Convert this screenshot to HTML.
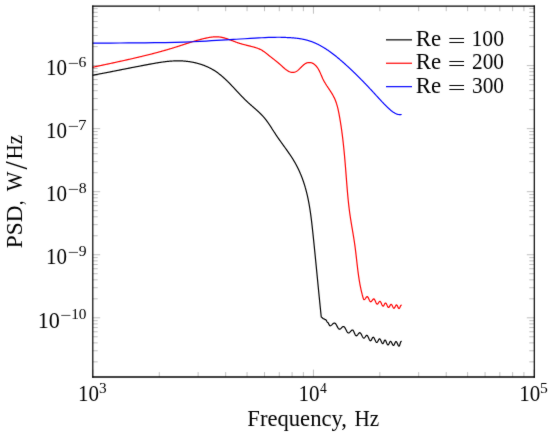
<!DOCTYPE html>
<html><head><meta charset="utf-8"><style>
html,body{margin:0;padding:0;background:#fff;}
svg{display:block;}
text{font-family:"Liberation Serif",serif;fill:#000;}
</style></head><body>
<svg width="550" height="435" viewBox="0 0 550 435">
<defs><filter id="soft" x="0" y="0" width="550" height="435" filterUnits="userSpaceOnUse" color-interpolation-filters="sRGB"><feConvolveMatrix order="3" kernelMatrix="1 3 1 3 40 3 1 3 1" edgeMode="duplicate"/></filter></defs>
<g filter="url(#soft)">
<rect width="550" height="435" fill="#fff"/>
<g stroke="#000" stroke-width="0.26" fill="none"><line x1="92.90" y1="377.00" x2="92.90" y2="369.60"/><line x1="92.90" y1="6.30" x2="92.90" y2="13.70"/><line x1="159.29" y1="377.00" x2="159.29" y2="372.10"/><line x1="159.29" y1="6.30" x2="159.29" y2="11.20"/><line x1="198.13" y1="377.00" x2="198.13" y2="372.10"/><line x1="198.13" y1="6.30" x2="198.13" y2="11.20"/><line x1="225.68" y1="377.00" x2="225.68" y2="372.10"/><line x1="225.68" y1="6.30" x2="225.68" y2="11.20"/><line x1="247.06" y1="377.00" x2="247.06" y2="372.10"/><line x1="247.06" y1="6.30" x2="247.06" y2="11.20"/><line x1="264.52" y1="377.00" x2="264.52" y2="372.10"/><line x1="264.52" y1="6.30" x2="264.52" y2="11.20"/><line x1="279.29" y1="377.00" x2="279.29" y2="372.10"/><line x1="279.29" y1="6.30" x2="279.29" y2="11.20"/><line x1="292.08" y1="377.00" x2="292.08" y2="372.10"/><line x1="292.08" y1="6.30" x2="292.08" y2="11.20"/><line x1="303.36" y1="377.00" x2="303.36" y2="372.10"/><line x1="303.36" y1="6.30" x2="303.36" y2="11.20"/><line x1="313.45" y1="377.00" x2="313.45" y2="369.60"/><line x1="313.45" y1="6.30" x2="313.45" y2="13.70"/><line x1="379.84" y1="377.00" x2="379.84" y2="372.10"/><line x1="379.84" y1="6.30" x2="379.84" y2="11.20"/><line x1="418.68" y1="377.00" x2="418.68" y2="372.10"/><line x1="418.68" y1="6.30" x2="418.68" y2="11.20"/><line x1="446.23" y1="377.00" x2="446.23" y2="372.10"/><line x1="446.23" y1="6.30" x2="446.23" y2="11.20"/><line x1="467.61" y1="377.00" x2="467.61" y2="372.10"/><line x1="467.61" y1="6.30" x2="467.61" y2="11.20"/><line x1="485.07" y1="377.00" x2="485.07" y2="372.10"/><line x1="485.07" y1="6.30" x2="485.07" y2="11.20"/><line x1="499.84" y1="377.00" x2="499.84" y2="372.10"/><line x1="499.84" y1="6.30" x2="499.84" y2="11.20"/><line x1="512.63" y1="377.00" x2="512.63" y2="372.10"/><line x1="512.63" y1="6.30" x2="512.63" y2="11.20"/><line x1="523.91" y1="377.00" x2="523.91" y2="372.10"/><line x1="523.91" y1="6.30" x2="523.91" y2="11.20"/><line x1="534.00" y1="377.00" x2="534.00" y2="369.60"/><line x1="534.00" y1="6.30" x2="534.00" y2="13.70"/><line x1="92.80" y1="361.87" x2="97.70" y2="361.87"/><line x1="534.20" y1="361.87" x2="529.30" y2="361.87"/><line x1="92.80" y1="350.77" x2="97.70" y2="350.77"/><line x1="534.20" y1="350.77" x2="529.30" y2="350.77"/><line x1="92.80" y1="342.89" x2="97.70" y2="342.89"/><line x1="534.20" y1="342.89" x2="529.30" y2="342.89"/><line x1="92.80" y1="336.78" x2="97.70" y2="336.78"/><line x1="534.20" y1="336.78" x2="529.30" y2="336.78"/><line x1="92.80" y1="331.79" x2="97.70" y2="331.79"/><line x1="534.20" y1="331.79" x2="529.30" y2="331.79"/><line x1="92.80" y1="327.57" x2="97.70" y2="327.57"/><line x1="534.20" y1="327.57" x2="529.30" y2="327.57"/><line x1="92.80" y1="323.91" x2="97.70" y2="323.91"/><line x1="534.20" y1="323.91" x2="529.30" y2="323.91"/><line x1="92.80" y1="320.69" x2="97.70" y2="320.69"/><line x1="534.20" y1="320.69" x2="529.30" y2="320.69"/><line x1="92.80" y1="317.80" x2="100.20" y2="317.80"/><line x1="534.20" y1="317.80" x2="526.80" y2="317.80"/><line x1="92.80" y1="298.82" x2="97.70" y2="298.82"/><line x1="534.20" y1="298.82" x2="529.30" y2="298.82"/><line x1="92.80" y1="287.72" x2="97.70" y2="287.72"/><line x1="534.20" y1="287.72" x2="529.30" y2="287.72"/><line x1="92.80" y1="279.84" x2="97.70" y2="279.84"/><line x1="534.20" y1="279.84" x2="529.30" y2="279.84"/><line x1="92.80" y1="273.73" x2="97.70" y2="273.73"/><line x1="534.20" y1="273.73" x2="529.30" y2="273.73"/><line x1="92.80" y1="268.74" x2="97.70" y2="268.74"/><line x1="534.20" y1="268.74" x2="529.30" y2="268.74"/><line x1="92.80" y1="264.52" x2="97.70" y2="264.52"/><line x1="534.20" y1="264.52" x2="529.30" y2="264.52"/><line x1="92.80" y1="260.86" x2="97.70" y2="260.86"/><line x1="534.20" y1="260.86" x2="529.30" y2="260.86"/><line x1="92.80" y1="257.64" x2="97.70" y2="257.64"/><line x1="534.20" y1="257.64" x2="529.30" y2="257.64"/><line x1="92.80" y1="254.75" x2="100.20" y2="254.75"/><line x1="534.20" y1="254.75" x2="526.80" y2="254.75"/><line x1="92.80" y1="235.77" x2="97.70" y2="235.77"/><line x1="534.20" y1="235.77" x2="529.30" y2="235.77"/><line x1="92.80" y1="224.67" x2="97.70" y2="224.67"/><line x1="534.20" y1="224.67" x2="529.30" y2="224.67"/><line x1="92.80" y1="216.79" x2="97.70" y2="216.79"/><line x1="534.20" y1="216.79" x2="529.30" y2="216.79"/><line x1="92.80" y1="210.68" x2="97.70" y2="210.68"/><line x1="534.20" y1="210.68" x2="529.30" y2="210.68"/><line x1="92.80" y1="205.69" x2="97.70" y2="205.69"/><line x1="534.20" y1="205.69" x2="529.30" y2="205.69"/><line x1="92.80" y1="201.47" x2="97.70" y2="201.47"/><line x1="534.20" y1="201.47" x2="529.30" y2="201.47"/><line x1="92.80" y1="197.81" x2="97.70" y2="197.81"/><line x1="534.20" y1="197.81" x2="529.30" y2="197.81"/><line x1="92.80" y1="194.59" x2="97.70" y2="194.59"/><line x1="534.20" y1="194.59" x2="529.30" y2="194.59"/><line x1="92.80" y1="191.70" x2="100.20" y2="191.70"/><line x1="534.20" y1="191.70" x2="526.80" y2="191.70"/><line x1="92.80" y1="172.72" x2="97.70" y2="172.72"/><line x1="534.20" y1="172.72" x2="529.30" y2="172.72"/><line x1="92.80" y1="161.62" x2="97.70" y2="161.62"/><line x1="534.20" y1="161.62" x2="529.30" y2="161.62"/><line x1="92.80" y1="153.74" x2="97.70" y2="153.74"/><line x1="534.20" y1="153.74" x2="529.30" y2="153.74"/><line x1="92.80" y1="147.63" x2="97.70" y2="147.63"/><line x1="534.20" y1="147.63" x2="529.30" y2="147.63"/><line x1="92.80" y1="142.64" x2="97.70" y2="142.64"/><line x1="534.20" y1="142.64" x2="529.30" y2="142.64"/><line x1="92.80" y1="138.42" x2="97.70" y2="138.42"/><line x1="534.20" y1="138.42" x2="529.30" y2="138.42"/><line x1="92.80" y1="134.76" x2="97.70" y2="134.76"/><line x1="534.20" y1="134.76" x2="529.30" y2="134.76"/><line x1="92.80" y1="131.54" x2="97.70" y2="131.54"/><line x1="534.20" y1="131.54" x2="529.30" y2="131.54"/><line x1="92.80" y1="128.65" x2="100.20" y2="128.65"/><line x1="534.20" y1="128.65" x2="526.80" y2="128.65"/><line x1="92.80" y1="109.67" x2="97.70" y2="109.67"/><line x1="534.20" y1="109.67" x2="529.30" y2="109.67"/><line x1="92.80" y1="98.57" x2="97.70" y2="98.57"/><line x1="534.20" y1="98.57" x2="529.30" y2="98.57"/><line x1="92.80" y1="90.69" x2="97.70" y2="90.69"/><line x1="534.20" y1="90.69" x2="529.30" y2="90.69"/><line x1="92.80" y1="84.58" x2="97.70" y2="84.58"/><line x1="534.20" y1="84.58" x2="529.30" y2="84.58"/><line x1="92.80" y1="79.59" x2="97.70" y2="79.59"/><line x1="534.20" y1="79.59" x2="529.30" y2="79.59"/><line x1="92.80" y1="75.37" x2="97.70" y2="75.37"/><line x1="534.20" y1="75.37" x2="529.30" y2="75.37"/><line x1="92.80" y1="71.71" x2="97.70" y2="71.71"/><line x1="534.20" y1="71.71" x2="529.30" y2="71.71"/><line x1="92.80" y1="68.49" x2="97.70" y2="68.49"/><line x1="534.20" y1="68.49" x2="529.30" y2="68.49"/><line x1="92.80" y1="65.60" x2="100.20" y2="65.60"/><line x1="534.20" y1="65.60" x2="526.80" y2="65.60"/><line x1="92.80" y1="46.62" x2="97.70" y2="46.62"/><line x1="534.20" y1="46.62" x2="529.30" y2="46.62"/><line x1="92.80" y1="35.52" x2="97.70" y2="35.52"/><line x1="534.20" y1="35.52" x2="529.30" y2="35.52"/><line x1="92.80" y1="27.64" x2="97.70" y2="27.64"/><line x1="534.20" y1="27.64" x2="529.30" y2="27.64"/><line x1="92.80" y1="21.53" x2="97.70" y2="21.53"/><line x1="534.20" y1="21.53" x2="529.30" y2="21.53"/><line x1="92.80" y1="16.54" x2="97.70" y2="16.54"/><line x1="534.20" y1="16.54" x2="529.30" y2="16.54"/><line x1="92.80" y1="12.32" x2="97.70" y2="12.32"/><line x1="534.20" y1="12.32" x2="529.30" y2="12.32"/><line x1="92.80" y1="8.66" x2="97.70" y2="8.66"/><line x1="534.20" y1="8.66" x2="529.30" y2="8.66"/></g>
<g fill="none" stroke-width="1.20" stroke-linejoin="round" stroke-linecap="round">
<path d="M92.90 75.20 L93.34 75.11 L93.78 75.03 L94.23 74.95 L94.68 74.86 L95.12 74.78 L95.57 74.70 L96.01 74.62 L96.46 74.53 L96.90 74.45 L97.35 74.36 L97.79 74.28 L98.24 74.20 L98.68 74.11 L99.13 74.03 L99.57 73.94 L100.01 73.86 L100.46 73.77 L100.90 73.69 L101.35 73.60 L101.79 73.52 L102.23 73.43 L102.68 73.35 L103.12 73.26 L103.57 73.18 L104.01 73.09 L104.45 73.01 L104.90 72.92 L105.34 72.83 L105.78 72.75 L106.23 72.66 L106.67 72.58 L107.11 72.49 L107.56 72.40 L108.00 72.32 L108.44 72.23 L108.89 72.14 L109.33 72.06 L109.77 71.97 L110.21 71.88 L110.66 71.80 L111.10 71.71 L111.54 71.62 L111.98 71.54 L112.43 71.45 L112.87 71.36 L113.31 71.27 L113.76 71.19 L114.20 71.10 L114.64 71.01 L115.08 70.92 L115.52 70.84 L115.97 70.75 L116.41 70.66 L116.85 70.57 L117.29 70.49 L117.74 70.40 L118.18 70.31 L118.62 70.22 L119.06 70.14 L119.50 70.05 L119.95 69.96 L120.39 69.87 L120.83 69.79 L121.27 69.70 L121.71 69.61 L122.16 69.52 L122.60 69.44 L123.04 69.35 L123.48 69.26 L123.93 69.17 L124.37 69.09 L124.81 69.00 L125.25 68.91 L125.69 68.82 L126.14 68.74 L126.58 68.65 L127.02 68.56 L127.46 68.47 L127.90 68.39 L128.35 68.30 L128.79 68.21 L129.23 68.12 L129.67 68.04 L130.11 67.95 L130.56 67.86 L131.00 67.78 L131.44 67.69 L131.88 67.60 L132.33 67.51 L132.77 67.43 L133.21 67.34 L133.65 67.25 L134.09 67.17 L134.54 67.08 L134.98 67.00 L135.42 66.91 L135.87 66.82 L136.31 66.74 L136.75 66.65 L137.19 66.56 L137.64 66.48 L138.08 66.39 L138.52 66.31 L138.96 66.22 L139.41 66.14 L139.85 66.05 L140.29 65.97 L140.74 65.88 L141.18 65.80 L141.62 65.71 L142.07 65.63 L142.51 65.54 L142.95 65.46 L143.40 65.37 L143.84 65.29 L144.28 65.20 L144.73 65.12 L145.17 65.04 L145.62 64.95 L146.06 64.87 L146.50 64.79 L146.95 64.70 L147.39 64.62 L147.84 64.54 L148.28 64.45 L148.72 64.37 L149.17 64.29 L149.61 64.21 L150.06 64.13 L150.50 64.04 L150.95 63.96 L151.39 63.88 L151.84 63.80 L152.28 63.72 L152.73 63.64 L153.17 63.56 L153.62 63.48 L154.07 63.40 L154.51 63.32 L154.96 63.24 L155.40 63.17 L155.85 63.09 L156.29 63.01 L156.74 62.94 L157.19 62.86 L157.63 62.79 L158.08 62.71 L158.53 62.64 L158.97 62.57 L159.42 62.50 L159.87 62.43 L160.31 62.36 L160.76 62.29 L161.21 62.23 L161.66 62.16 L162.10 62.10 L162.55 62.03 L163.00 61.97 L163.45 61.91 L163.89 61.85 L164.34 61.79 L164.79 61.73 L165.24 61.68 L165.69 61.63 L166.14 61.57 L166.58 61.52 L167.03 61.47 L167.48 61.42 L167.93 61.38 L168.38 61.33 L168.83 61.29 L169.28 61.25 L169.73 61.21 L170.18 61.17 L170.63 61.13 L171.08 61.10 L171.53 61.07 L171.98 61.04 L172.43 61.01 L172.88 60.98 L173.33 60.96 L173.78 60.93 L174.23 60.91 L174.68 60.90 L175.13 60.88 L175.58 60.87 L176.03 60.85 L176.49 60.84 L176.94 60.84 L177.39 60.83 L177.84 60.83 L178.29 60.83 L178.74 60.83 L179.20 60.84 L179.65 60.85 L180.10 60.86 L180.55 60.87 L181.01 60.89 L181.46 60.90 L181.91 60.93 L182.37 60.95 L182.82 60.97 L183.27 61.00 L183.72 61.04 L184.18 61.07 L184.63 61.11 L185.08 61.15 L185.53 61.19 L185.99 61.23 L186.44 61.28 L186.89 61.33 L187.34 61.38 L187.79 61.44 L188.24 61.50 L188.69 61.56 L189.14 61.62 L189.59 61.69 L190.04 61.76 L190.49 61.83 L190.94 61.90 L191.39 61.98 L191.83 62.06 L192.28 62.14 L192.73 62.23 L193.17 62.32 L193.62 62.41 L194.06 62.50 L194.50 62.60 L194.94 62.70 L195.39 62.80 L195.83 62.90 L196.27 63.01 L196.71 63.12 L197.15 63.24 L197.58 63.35 L198.02 63.47 L198.45 63.59 L198.89 63.72 L199.32 63.84 L199.76 63.97 L200.19 64.11 L200.62 64.24 L201.05 64.38 L201.47 64.52 L201.90 64.67 L202.33 64.82 L202.75 64.97 L203.18 65.12 L203.60 65.27 L204.02 65.43 L204.44 65.60 L204.86 65.76 L205.27 65.93 L205.69 66.10 L206.10 66.27 L206.51 66.45 L206.92 66.63 L207.33 66.81 L207.74 66.99 L208.15 67.18 L208.55 67.37 L208.95 67.57 L209.36 67.76 L209.76 67.96 L210.15 68.17 L210.55 68.37 L210.94 68.58 L211.34 68.79 L211.73 69.01 L212.12 69.22 L212.50 69.44 L212.89 69.67 L213.27 69.89 L213.65 70.12 L214.03 70.36 L214.41 70.59 L214.78 70.83 L215.16 71.07 L215.53 71.32 L215.90 71.56 L216.26 71.81 L216.63 72.07 L216.99 72.32 L217.36 72.58 L217.72 72.84 L218.07 73.10 L218.43 73.37 L218.79 73.64 L219.14 73.91 L219.49 74.18 L219.84 74.46 L220.19 74.74 L220.54 75.02 L220.88 75.30 L221.23 75.58 L221.57 75.87 L221.91 76.16 L222.25 76.45 L222.59 76.74 L222.93 77.04 L223.27 77.33 L223.60 77.63 L223.94 77.93 L224.27 78.23 L224.60 78.54 L224.93 78.84 L225.26 79.15 L225.59 79.46 L225.92 79.77 L226.25 80.08 L226.57 80.39 L226.90 80.70 L227.22 81.02 L227.54 81.34 L227.87 81.65 L228.19 81.97 L228.51 82.29 L228.83 82.62 L229.15 82.94 L229.46 83.26 L229.78 83.59 L230.10 83.91 L230.42 84.24 L230.73 84.57 L231.05 84.90 L231.36 85.22 L231.68 85.55 L231.99 85.89 L232.31 86.22 L232.62 86.55 L232.93 86.88 L233.24 87.21 L233.56 87.55 L233.87 87.88 L234.18 88.21 L234.49 88.55 L234.80 88.88 L235.12 89.22 L235.43 89.55 L235.74 89.89 L236.05 90.22 L236.36 90.56 L236.67 90.89 L236.98 91.23 L237.30 91.56 L237.61 91.90 L237.92 92.23 L238.23 92.57 L238.54 92.90 L238.85 93.23 L239.17 93.57 L239.48 93.90 L239.79 94.23 L240.11 94.56 L240.42 94.90 L240.74 95.23 L241.05 95.56 L241.37 95.89 L241.68 96.22 L242.00 96.54 L242.31 96.87 L242.63 97.20 L242.95 97.52 L243.27 97.85 L243.59 98.17 L243.91 98.49 L244.23 98.82 L244.55 99.14 L244.87 99.46 L245.20 99.77 L245.52 100.09 L245.85 100.41 L246.17 100.72 L246.50 101.03 L246.83 101.34 L247.16 101.65 L247.49 101.96 L247.82 102.27 L248.15 102.57 L248.48 102.88 L248.82 103.18 L249.15 103.48 L249.49 103.78 L249.82 104.08 L250.16 104.38 L250.50 104.68 L250.83 104.97 L251.17 105.27 L251.51 105.57 L251.85 105.86 L252.18 106.16 L252.52 106.45 L252.86 106.75 L253.20 107.04 L253.53 107.33 L253.87 107.63 L254.21 107.92 L254.55 108.22 L254.88 108.51 L255.22 108.81 L255.55 109.10 L255.89 109.40 L256.22 109.70 L256.55 109.99 L256.88 110.29 L257.21 110.59 L257.54 110.89 L257.87 111.19 L258.20 111.49 L258.52 111.79 L258.85 112.10 L259.17 112.40 L259.49 112.71 L259.81 113.02 L260.13 113.33 L260.45 113.64 L260.76 113.96 L261.07 114.27 L261.39 114.59 L261.70 114.91 L262.00 115.23 L262.31 115.55 L262.61 115.88 L262.91 116.21 L263.21 116.54 L263.50 116.87 L263.80 117.21 L264.09 117.55 L264.38 117.89 L264.66 118.23 L264.94 118.58 L265.22 118.93 L265.50 119.28 L265.78 119.63 L266.05 119.99 L266.33 120.34 L266.60 120.70 L266.86 121.06 L267.13 121.43 L267.39 121.79 L267.66 122.16 L267.92 122.53 L268.18 122.90 L268.44 123.27 L268.69 123.64 L268.95 124.02 L269.20 124.39 L269.46 124.77 L269.71 125.15 L269.96 125.52 L270.21 125.90 L270.46 126.28 L270.71 126.66 L270.96 127.05 L271.21 127.43 L271.45 127.81 L271.70 128.19 L271.95 128.57 L272.19 128.96 L272.44 129.34 L272.69 129.72 L272.93 130.11 L273.18 130.49 L273.42 130.87 L273.67 131.25 L273.92 131.63 L274.16 132.02 L274.41 132.40 L274.66 132.78 L274.91 133.16 L275.15 133.54 L275.40 133.92 L275.65 134.30 L275.90 134.68 L276.15 135.06 L276.41 135.43 L276.66 135.81 L276.91 136.19 L277.17 136.56 L277.42 136.94 L277.68 137.31 L277.93 137.69 L278.19 138.06 L278.45 138.43 L278.71 138.80 L278.97 139.18 L279.23 139.55 L279.49 139.92 L279.75 140.29 L280.01 140.66 L280.27 141.03 L280.54 141.40 L280.80 141.76 L281.06 142.13 L281.33 142.50 L281.59 142.87 L281.86 143.24 L282.12 143.60 L282.39 143.97 L282.65 144.34 L282.92 144.70 L283.18 145.07 L283.45 145.44 L283.71 145.80 L283.98 146.17 L284.24 146.54 L284.50 146.90 L284.77 147.27 L285.03 147.64 L285.30 148.00 L285.56 148.37 L285.82 148.74 L286.09 149.11 L286.35 149.47 L286.61 149.84 L286.87 150.21 L287.13 150.58 L287.39 150.95 L287.65 151.31 L287.91 151.68 L288.17 152.05 L288.43 152.42 L288.69 152.79 L288.94 153.16 L289.20 153.54 L289.45 153.91 L289.71 154.28 L289.96 154.65 L290.21 155.03 L290.46 155.40 L290.71 155.77 L290.96 156.15 L291.21 156.53 L291.45 156.90 L291.70 157.28 L291.94 157.66 L292.19 158.04 L292.43 158.42 L292.67 158.80 L292.91 159.18 L293.14 159.56 L293.38 159.94 L293.61 160.33 L293.84 160.71 L294.08 161.10 L294.30 161.48 L294.53 161.87 L294.76 162.26 L294.98 162.65 L295.20 163.04 L295.42 163.43 L295.64 163.83 L295.86 164.22 L296.08 164.62 L296.29 165.01 L296.50 165.41 L296.71 165.81 L296.92 166.21 L297.12 166.61 L297.33 167.01 L297.53 167.41 L297.73 167.81 L297.93 168.22 L298.13 168.62 L298.33 169.03 L298.52 169.44 L298.71 169.84 L298.90 170.25 L299.09 170.66 L299.28 171.07 L299.46 171.48 L299.65 171.90 L299.83 172.31 L300.01 172.72 L300.19 173.14 L300.37 173.55 L300.54 173.97 L300.72 174.38 L300.89 174.80 L301.06 175.22 L301.23 175.64 L301.39 176.05 L301.56 176.47 L301.72 176.89 L301.89 177.31 L302.05 177.74 L302.20 178.16 L302.36 178.58 L302.52 179.00 L302.67 179.43 L302.82 179.85 L302.97 180.28 L303.12 180.70 L303.27 181.13 L303.42 181.56 L303.56 181.98 L303.70 182.41 L303.85 182.84 L303.98 183.26 L304.12 183.69 L304.26 184.12 L304.39 184.55 L304.53 184.98 L304.66 185.41 L304.79 185.84 L304.92 186.27 L305.05 186.70 L305.17 187.14 L305.30 187.57 L305.42 188.00 L305.54 188.43 L305.66 188.87 L305.78 189.30 L305.90 189.74 L306.02 190.17 L306.13 190.60 L306.24 191.04 L306.36 191.47 L306.47 191.91 L306.58 192.35 L306.69 192.78 L306.79 193.22 L306.90 193.66 L307.00 194.09 L307.11 194.53 L307.21 194.97 L307.31 195.41 L307.41 195.85 L307.51 196.29 L307.61 196.73 L307.70 197.17 L307.80 197.61 L307.89 198.05 L307.98 198.49 L308.08 198.93 L308.17 199.37 L308.26 199.81 L308.34 200.25 L308.43 200.69 L308.52 201.14 L308.60 201.58 L308.69 202.02 L308.77 202.46 L308.86 202.91 L308.94 203.35 L309.02 203.79 L309.10 204.24 L309.18 204.68 L309.25 205.13 L309.33 205.57 L309.41 206.02 L309.48 206.46 L309.56 206.91 L309.63 207.35 L309.70 207.80 L309.77 208.24 L309.85 208.69 L309.92 209.13 L309.99 209.58 L310.05 210.03 L310.12 210.47 L310.19 210.92 L310.26 211.37 L310.32 211.82 L310.39 212.26 L310.45 212.71 L310.52 213.16 L310.58 213.61 L310.64 214.05 L310.70 214.50 L310.77 214.95 L310.83 215.40 L310.89 215.85 L310.95 216.30 L311.00 216.74 L311.06 217.19 L311.12 217.64 L311.18 218.09 L311.23 218.54 L311.29 218.99 L311.35 219.44 L311.40 219.89 L311.46 220.34 L311.51 220.79 L311.57 221.24 L311.62 221.69 L311.67 222.14 L311.73 222.59 L311.78 223.04 L311.83 223.49 L311.88 223.94 L311.93 224.39 L311.98 224.84 L312.03 225.29 L312.09 225.74 L312.14 226.19 L312.19 226.64 L312.24 227.09 L312.28 227.54 L312.33 227.99 L312.38 228.44 L312.43 228.89 L312.48 229.34 L312.53 229.79 L312.58 230.24 L312.62 230.69 L312.67 231.14 L312.72 231.59 L312.77 232.04 L312.82 232.49 L312.86 232.94 L312.91 233.39 L312.96 233.84 L313.01 234.29 L313.05 234.74 L313.10 235.19 L313.15 235.64 L313.19 236.09 L313.24 236.54 L313.29 236.99 L313.33 237.44 L313.38 237.89 L313.43 238.34 L313.47 238.79 L313.52 239.24 L313.57 239.69 L313.61 240.14 L313.66 240.59 L313.71 241.04 L313.75 241.49 L313.80 241.94 L313.84 242.39 L313.89 242.84 L313.94 243.29 L313.98 243.74 L314.03 244.19 L314.07 244.63 L314.12 245.08 L314.16 245.53 L314.21 245.98 L314.26 246.43 L314.30 246.88 L314.35 247.33 L314.39 247.78 L314.44 248.23 L314.48 248.68 L314.53 249.13 L314.57 249.58 L314.62 250.03 L314.66 250.48 L314.71 250.92 L314.75 251.37 L314.80 251.82 L314.84 252.27 L314.89 252.72 L314.93 253.17 L314.98 253.62 L315.02 254.07 L315.07 254.52 L315.11 254.97 L315.16 255.41 L315.20 255.86 L315.24 256.31 L315.29 256.76 L315.33 257.21 L315.38 257.66 L315.42 258.11 L315.47 258.56 L315.51 259.01 L315.55 259.46 L315.60 259.90 L315.64 260.35 L315.69 260.80 L315.73 261.25 L315.78 261.70 L315.82 262.15 L315.86 262.60 L315.91 263.05 L315.95 263.49 L316.00 263.94 L316.04 264.39 L316.08 264.84 L316.13 265.29 L316.17 265.74 L316.22 266.19 L316.26 266.64 L316.30 267.08 L316.35 267.53 L316.39 267.98 L316.43 268.43 L316.48 268.88 L316.52 269.33 L316.57 269.78 L316.61 270.23 L316.65 270.67 L316.70 271.12 L316.74 271.57 L316.78 272.02 L316.83 272.47 L316.87 272.92 L316.92 273.37 L316.96 273.81 L317.00 274.26 L317.05 274.71 L317.09 275.16 L317.13 275.61 L317.18 276.06 L317.22 276.51 L317.26 276.95 L317.31 277.40 L317.35 277.85 L317.40 278.30 L317.44 278.75 L317.48 279.20 L317.53 279.65 L317.57 280.10 L317.61 280.54 L317.66 280.99 L317.70 281.44 L317.75 281.89 L317.79 282.34 L317.83 282.79 L317.88 283.24 L317.92 283.69 L317.96 284.13 L318.01 284.58 L318.05 285.03 L318.10 285.48 L318.14 285.93 L318.18 286.38 L318.23 286.83 L318.27 287.28 L318.31 287.72 L318.36 288.17 L318.40 288.62 L318.45 289.07 L318.49 289.52 L318.53 289.97 L318.58 290.42 L318.62 290.87 L318.67 291.32 L318.71 291.76 L318.75 292.21 L318.80 292.66 L318.84 293.11 L318.89 293.56 L318.93 294.01 L318.98 294.46 L319.02 294.91 L319.06 295.36 L319.11 295.81 L319.15 296.25 L319.20 296.70 L319.24 297.15 L319.29 297.60 L319.33 298.05 L319.38 298.50 L319.42 298.95 L319.46 299.40 L319.51 299.85 L319.55 300.30 L319.60 300.75 L319.64 301.20 L319.69 301.64 L319.73 302.09 L319.78 302.54 L319.82 302.99 L319.87 303.44 L319.91 303.89 L319.96 304.34 L320.00 304.79 L320.05 305.24 L320.09 305.69 L320.14 306.14 L320.19 306.59 L320.23 307.04 L320.28 307.49 L320.32 307.94 L320.37 308.39 L320.41 308.84 L320.46 309.29 L320.51 309.74 L320.55 310.19 L320.60 310.64 L320.64 311.09 L320.69 311.54 L320.74 311.99 L320.78 312.44 L320.83 312.89 L320.87 313.34 L320.92 313.79 L320.97 314.24 L321.01 314.69 L321.06 315.14 L321.11 315.59 L321.15 316.04 L321.20 316.49 L321.25 316.94 L321.70 317.30 L322.10 317.51 L322.50 318.00 L322.90 318.49 L323.30 318.70 L323.78 318.80 L324.26 319.05 L324.74 319.35 L325.22 319.60 L325.70 319.70 L326.10 319.97 L326.50 320.67 L326.90 321.53 L327.30 322.23 L327.70 322.50 L328.16 322.82 L328.62 323.64 L329.08 324.66 L329.54 325.48 L330.00 325.80 L330.41 325.74 L330.82 325.58 L331.23 325.32 L331.64 324.98 L332.05 324.60 L332.45 324.20 L332.86 323.82 L333.27 323.48 L333.68 323.22 L334.09 323.06 L334.50 323.00 L334.92 323.11 L335.33 323.42 L335.75 323.91 L336.17 324.55 L336.58 325.30 L337.00 326.10 L337.42 326.90 L337.83 327.65 L338.25 328.29 L338.67 328.78 L339.08 329.09 L339.50 329.20 L339.90 329.13 L340.30 328.94 L340.70 328.64 L341.10 328.27 L341.50 327.85 L341.90 327.43 L342.30 327.06 L342.70 326.76 L343.10 326.57 L343.50 326.50 L343.92 326.61 L344.33 326.94 L344.75 327.45 L345.17 328.12 L345.58 328.91 L346.00 329.75 L346.42 330.59 L346.83 331.38 L347.25 332.05 L347.67 332.56 L348.08 332.89 L348.50 333.00 L348.90 332.93 L349.30 332.71 L349.70 332.38 L350.10 331.96 L350.50 331.50 L350.90 331.04 L351.30 330.62 L351.70 330.29 L352.10 330.07 L352.50 330.00 L352.92 330.17 L353.34 330.68 L353.77 331.45 L354.19 332.40 L354.61 333.40 L355.03 334.35 L355.46 335.12 L355.88 335.63 L356.30 335.80 L356.74 335.68 L357.18 335.35 L357.61 334.84 L358.05 334.25 L358.49 333.66 L358.93 333.15 L359.36 332.82 L359.80 332.70 L360.21 332.83 L360.62 333.22 L361.03 333.81 L361.44 334.57 L361.85 335.40 L362.26 336.23 L362.67 336.99 L363.08 337.58 L363.49 337.97 L363.90 338.10 L364.31 337.96 L364.73 337.57 L365.14 337.01 L365.56 336.39 L365.97 335.83 L366.39 335.44 L366.80 335.30 L367.21 335.47 L367.62 335.94 L368.03 336.68 L368.44 337.57 L368.86 338.53 L369.27 339.43 L369.68 340.16 L370.09 340.63 L370.50 340.80 L370.95 340.56 L371.40 339.90 L371.85 339.00 L372.30 338.10 L372.75 337.44 L373.20 337.20 L373.60 337.36 L374.00 337.82 L374.40 338.52 L374.80 339.39 L375.20 340.31 L375.60 341.18 L376.00 341.88 L376.40 342.34 L376.80 342.50 L377.25 342.25 L377.70 341.57 L378.15 340.65 L378.60 339.73 L379.05 339.05 L379.50 338.80 L379.91 338.99 L380.32 339.52 L380.74 340.31 L381.15 341.25 L381.56 342.19 L381.98 342.98 L382.39 343.51 L382.80 343.70 L383.24 343.35 L383.68 342.42 L384.12 341.28 L384.56 340.35 L385.00 340.00 L385.43 340.25 L385.86 340.94 L386.29 341.94 L386.71 343.06 L387.14 344.06 L387.57 344.75 L388.00 345.00 L388.42 344.75 L388.83 344.07 L389.25 343.15 L389.67 342.23 L390.08 341.55 L390.50 341.30 L390.93 341.51 L391.36 342.09 L391.79 342.93 L392.21 343.87 L392.64 344.71 L393.07 345.29 L393.50 345.50 L393.92 345.23 L394.33 344.50 L394.75 343.50 L395.17 342.50 L395.58 341.77 L396.00 341.50 L396.43 341.73 L396.86 342.38 L397.29 343.33 L397.71 344.37 L398.14 345.32 L398.57 345.97 L399.00 346.20 L399.44 345.73 L399.88 344.51 L400.32 342.99 L400.76 341.77 L401.20 341.30" stroke="#000"/>
<path d="M92.90 67.20 L93.44 67.14 L93.96 67.02 L94.49 66.91 L95.01 66.79 L95.53 66.68 L96.06 66.56 L96.58 66.45 L97.11 66.33 L97.63 66.22 L98.15 66.10 L98.68 65.99 L99.20 65.87 L99.73 65.76 L100.25 65.65 L100.78 65.53 L101.30 65.42 L101.82 65.31 L102.35 65.19 L102.87 65.08 L103.40 64.96 L103.92 64.85 L104.45 64.74 L104.97 64.62 L105.50 64.51 L106.02 64.40 L106.55 64.28 L107.07 64.17 L107.60 64.06 L108.12 63.94 L108.65 63.83 L109.17 63.72 L109.70 63.60 L110.22 63.49 L110.75 63.38 L111.27 63.26 L111.80 63.15 L112.32 63.04 L112.85 62.92 L113.37 62.81 L113.90 62.69 L114.42 62.58 L114.95 62.47 L115.47 62.35 L116.00 62.24 L116.52 62.12 L117.05 62.01 L117.57 61.90 L118.10 61.78 L118.62 61.67 L119.15 61.55 L119.67 61.44 L120.20 61.32 L120.72 61.21 L121.25 61.09 L121.77 60.98 L122.30 60.86 L122.82 60.74 L123.35 60.63 L123.87 60.51 L124.40 60.40 L124.92 60.28 L125.45 60.16 L125.97 60.05 L126.50 59.93 L127.02 59.81 L127.55 59.69 L128.07 59.58 L128.60 59.46 L129.12 59.34 L129.64 59.22 L130.17 59.10 L130.69 58.98 L131.22 58.86 L131.74 58.74 L132.27 58.63 L132.79 58.51 L133.31 58.38 L133.84 58.26 L134.36 58.14 L134.88 58.02 L135.41 57.90 L135.93 57.78 L136.46 57.66 L136.98 57.54 L137.50 57.41 L138.03 57.29 L138.55 57.17 L139.07 57.04 L139.59 56.92 L140.12 56.79 L140.64 56.67 L141.16 56.54 L141.69 56.42 L142.21 56.29 L142.73 56.17 L143.25 56.04 L143.78 55.91 L144.30 55.79 L144.82 55.66 L145.34 55.53 L145.86 55.40 L146.39 55.27 L146.91 55.14 L147.43 55.01 L147.95 54.88 L148.47 54.75 L148.99 54.62 L149.51 54.49 L150.03 54.36 L150.56 54.23 L151.08 54.09 L151.60 53.96 L152.12 53.83 L152.64 53.69 L153.16 53.56 L153.68 53.42 L154.20 53.29 L154.72 53.15 L155.24 53.01 L155.76 52.87 L156.28 52.74 L156.79 52.60 L157.31 52.46 L157.83 52.32 L158.35 52.18 L158.87 52.04 L159.39 51.90 L159.91 51.76 L160.42 51.61 L160.94 51.47 L161.46 51.33 L161.98 51.18 L162.49 51.04 L163.01 50.89 L163.53 50.75 L164.05 50.60 L164.56 50.45 L165.08 50.31 L165.60 50.16 L166.11 50.01 L166.63 49.86 L167.14 49.71 L167.66 49.56 L168.17 49.41 L168.69 49.26 L169.21 49.10 L169.72 48.95 L170.23 48.79 L170.75 48.64 L171.26 48.48 L171.78 48.33 L172.29 48.17 L172.81 48.01 L173.32 47.86 L173.83 47.70 L174.35 47.54 L174.86 47.38 L175.37 47.21 L175.88 47.05 L176.40 46.89 L176.91 46.73 L177.42 46.56 L177.93 46.40 L178.44 46.23 L178.95 46.07 L179.47 45.90 L179.98 45.74 L180.49 45.57 L181.00 45.41 L181.51 45.24 L182.02 45.07 L182.53 44.91 L183.04 44.74 L183.55 44.57 L184.07 44.41 L184.58 44.24 L185.09 44.08 L185.60 43.91 L186.11 43.74 L186.62 43.58 L187.13 43.41 L187.65 43.25 L188.16 43.09 L188.67 42.92 L189.18 42.76 L189.69 42.60 L190.21 42.44 L190.72 42.28 L191.23 42.12 L191.74 41.96 L192.26 41.80 L192.77 41.64 L193.28 41.49 L193.80 41.33 L194.31 41.18 L194.83 41.03 L195.34 40.87 L195.86 40.72 L196.37 40.57 L196.89 40.43 L197.41 40.28 L197.92 40.14 L198.44 39.99 L198.96 39.85 L199.48 39.71 L199.99 39.57 L200.51 39.43 L201.03 39.30 L201.55 39.17 L202.07 39.03 L202.59 38.91 L203.12 38.78 L203.64 38.65 L204.16 38.53 L204.68 38.41 L205.21 38.29 L205.73 38.17 L206.26 38.05 L206.78 37.94 L207.31 37.83 L207.83 37.73 L208.36 37.63 L208.89 37.53 L209.42 37.44 L209.94 37.35 L210.47 37.27 L211.00 37.19 L211.53 37.12 L212.06 37.06 L212.59 37.00 L213.12 36.95 L213.65 36.90 L214.18 36.87 L214.71 36.84 L215.25 36.82 L215.78 36.80 L216.31 36.80 L216.84 36.81 L217.37 36.82 L217.91 36.84 L218.44 36.88 L218.97 36.92 L219.50 36.98 L220.04 37.05 L220.57 37.12 L221.10 37.21 L221.63 37.31 L222.17 37.42 L222.70 37.54 L223.23 37.66 L223.76 37.80 L224.28 37.94 L224.81 38.09 L225.34 38.24 L225.86 38.40 L226.38 38.57 L226.90 38.73 L227.42 38.91 L227.94 39.09 L228.45 39.26 L228.96 39.45 L229.47 39.63 L229.98 39.82 L230.49 40.01 L230.99 40.20 L231.49 40.39 L232.00 40.58 L232.50 40.77 L233.00 40.96 L233.50 41.15 L234.00 41.34 L234.50 41.53 L234.99 41.72 L235.49 41.91 L235.99 42.09 L236.49 42.28 L237.00 42.46 L237.50 42.64 L238.00 42.81 L238.50 42.98 L239.01 43.15 L239.52 43.31 L240.03 43.47 L240.54 43.63 L241.05 43.78 L241.56 43.93 L242.08 44.08 L242.59 44.22 L243.11 44.36 L243.63 44.50 L244.15 44.64 L244.67 44.78 L245.19 44.91 L245.71 45.04 L246.23 45.17 L246.75 45.30 L247.28 45.43 L247.80 45.56 L248.32 45.69 L248.85 45.82 L249.37 45.94 L249.90 46.07 L250.42 46.20 L250.95 46.33 L251.47 46.46 L252.00 46.59 L252.52 46.73 L253.04 46.87 L253.56 47.01 L254.08 47.15 L254.60 47.30 L255.12 47.45 L255.63 47.61 L256.14 47.78 L256.65 47.95 L257.16 48.12 L257.66 48.31 L258.16 48.50 L258.66 48.70 L259.15 48.90 L259.64 49.12 L260.12 49.34 L260.60 49.58 L261.08 49.82 L261.55 50.08 L262.01 50.34 L262.47 50.62 L262.93 50.91 L263.38 51.21 L263.82 51.51 L264.27 51.82 L264.70 52.14 L265.14 52.47 L265.57 52.80 L266.00 53.13 L266.43 53.47 L266.85 53.80 L267.28 54.14 L267.70 54.48 L268.12 54.82 L268.54 55.16 L268.95 55.50 L269.37 55.83 L269.79 56.16 L270.20 56.49 L270.62 56.81 L271.04 57.14 L271.45 57.46 L271.87 57.78 L272.28 58.10 L272.69 58.42 L273.11 58.74 L273.52 59.07 L273.94 59.39 L274.35 59.71 L274.76 60.04 L275.18 60.36 L275.59 60.69 L276.00 61.02 L276.42 61.35 L276.83 61.69 L277.25 62.03 L277.66 62.37 L278.07 62.72 L278.49 63.07 L278.90 63.42 L279.32 63.78 L279.73 64.15 L280.15 64.52 L280.57 64.90 L280.99 65.28 L281.40 65.66 L281.82 66.04 L282.24 66.42 L282.66 66.81 L283.09 67.19 L283.51 67.56 L283.94 67.93 L284.37 68.30 L284.79 68.66 L285.23 69.01 L285.66 69.35 L286.10 69.68 L286.54 70.00 L286.98 70.30 L287.42 70.59 L287.87 70.87 L288.32 71.13 L288.77 71.37 L289.23 71.59 L289.69 71.79 L290.15 71.97 L290.61 72.12 L291.08 72.25 L291.54 72.35 L292.01 72.42 L292.47 72.45 L292.93 72.45 L293.39 72.42 L293.85 72.35 L294.31 72.25 L294.76 72.11 L295.21 71.95 L295.66 71.76 L296.10 71.53 L296.54 71.28 L296.97 71.00 L297.40 70.69 L297.83 70.36 L298.25 70.01 L298.67 69.64 L299.09 69.25 L299.50 68.86 L299.92 68.45 L300.33 68.03 L300.74 67.61 L301.16 67.20 L301.58 66.78 L301.99 66.36 L302.42 65.96 L302.84 65.56 L303.27 65.18 L303.70 64.81 L304.14 64.46 L304.58 64.13 L305.04 63.83 L305.49 63.56 L305.96 63.31 L306.43 63.10 L306.91 62.92 L307.40 62.77 L307.89 62.66 L308.39 62.57 L308.88 62.53 L309.38 62.51 L309.88 62.53 L310.37 62.59 L310.86 62.67 L311.35 62.79 L311.83 62.94 L312.30 63.12 L312.77 63.34 L313.22 63.58 L313.67 63.86 L314.10 64.16 L314.53 64.49 L314.94 64.84 L315.35 65.21 L315.74 65.60 L316.12 66.01 L316.49 66.43 L316.84 66.87 L317.19 67.32 L317.52 67.78 L317.84 68.25 L318.14 68.72 L318.43 69.20 L318.71 69.68 L318.97 70.17 L319.22 70.65 L319.47 71.15 L319.70 71.64 L319.93 72.13 L320.15 72.63 L320.37 73.13 L320.58 73.62 L320.78 74.12 L320.99 74.62 L321.19 75.12 L321.40 75.61 L321.60 76.11 L321.81 76.60 L322.02 77.10 L322.23 77.58 L322.45 78.07 L322.68 78.56 L322.91 79.04 L323.15 79.51 L323.40 79.99 L323.65 80.46 L323.91 80.93 L324.17 81.40 L324.43 81.86 L324.71 82.33 L324.98 82.79 L325.26 83.25 L325.54 83.71 L325.83 84.16 L326.11 84.62 L326.41 85.07 L326.70 85.52 L326.99 85.98 L327.29 86.43 L327.59 86.88 L327.88 87.33 L328.18 87.78 L328.48 88.23 L328.78 88.67 L329.08 89.12 L329.38 89.57 L329.68 90.02 L329.97 90.47 L330.27 90.92 L330.56 91.38 L330.85 91.83 L331.14 92.28 L331.42 92.74 L331.70 93.19 L331.98 93.65 L332.26 94.11 L332.53 94.57 L332.79 95.03 L333.05 95.50 L333.31 95.97 L333.56 96.44 L333.80 96.91 L334.04 97.38 L334.27 97.86 L334.50 98.34 L334.72 98.82 L334.93 99.31 L335.14 99.80 L335.34 100.29 L335.53 100.78 L335.72 101.28 L335.91 101.78 L336.08 102.28 L336.26 102.78 L336.42 103.29 L336.59 103.79 L336.74 104.30 L336.90 104.81 L337.05 105.32 L337.19 105.84 L337.33 106.35 L337.47 106.87 L337.60 107.39 L337.73 107.91 L337.86 108.43 L337.98 108.96 L338.10 109.48 L338.22 110.00 L338.33 110.53 L338.45 111.06 L338.56 111.58 L338.66 112.11 L338.77 112.64 L338.87 113.17 L338.97 113.70 L339.07 114.23 L339.17 114.76 L339.27 115.29 L339.37 115.82 L339.46 116.35 L339.56 116.88 L339.65 117.41 L339.74 117.94 L339.84 118.47 L339.93 119.00 L340.02 119.54 L340.11 120.07 L340.20 120.60 L340.28 121.13 L340.37 121.66 L340.46 122.19 L340.54 122.72 L340.63 123.25 L340.71 123.79 L340.79 124.32 L340.87 124.85 L340.96 125.38 L341.04 125.91 L341.12 126.44 L341.19 126.98 L341.27 127.51 L341.35 128.04 L341.43 128.57 L341.50 129.11 L341.58 129.64 L341.65 130.17 L341.72 130.70 L341.80 131.23 L341.87 131.77 L341.94 132.30 L342.01 132.83 L342.08 133.36 L342.15 133.90 L342.22 134.43 L342.29 134.96 L342.35 135.50 L342.42 136.03 L342.49 136.56 L342.55 137.09 L342.62 137.63 L342.68 138.16 L342.75 138.69 L342.81 139.23 L342.87 139.76 L342.93 140.29 L342.99 140.83 L343.06 141.36 L343.12 141.89 L343.18 142.43 L343.23 142.96 L343.29 143.49 L343.35 144.03 L343.41 144.56 L343.47 145.10 L343.52 145.63 L343.58 146.16 L343.63 146.70 L343.69 147.23 L343.74 147.77 L343.80 148.30 L343.85 148.83 L343.91 149.37 L343.96 149.90 L344.01 150.44 L344.06 150.97 L344.12 151.51 L344.17 152.04 L344.22 152.57 L344.27 153.11 L344.32 153.64 L344.37 154.18 L344.42 154.71 L344.47 155.25 L344.52 155.78 L344.56 156.32 L344.61 156.85 L344.66 157.39 L344.71 157.92 L344.75 158.46 L344.80 158.99 L344.85 159.52 L344.89 160.06 L344.94 160.59 L344.99 161.13 L345.03 161.67 L345.08 162.20 L345.12 162.74 L345.17 163.27 L345.21 163.81 L345.25 164.34 L345.30 164.88 L345.34 165.41 L345.39 165.95 L345.43 166.48 L345.47 167.02 L345.52 167.55 L345.56 168.09 L345.60 168.62 L345.64 169.16 L345.69 169.69 L345.73 170.23 L345.77 170.77 L345.81 171.30 L345.86 171.84 L345.90 172.37 L345.94 172.91 L345.98 173.44 L346.02 173.98 L346.07 174.52 L346.11 175.05 L346.15 175.59 L346.19 176.12 L346.23 176.66 L346.27 177.20 L346.31 177.73 L346.36 178.27 L346.40 178.80 L346.44 179.34 L346.48 179.88 L346.52 180.41 L346.56 180.95 L346.61 181.48 L346.65 182.02 L346.69 182.56 L346.73 183.09 L346.77 183.63 L346.82 184.16 L346.86 184.70 L346.90 185.24 L346.94 185.77 L346.99 186.31 L347.03 186.84 L347.07 187.38 L347.12 187.92 L347.16 188.45 L347.20 188.99 L347.25 189.52 L347.29 190.06 L347.34 190.59 L347.38 191.13 L347.43 191.67 L347.48 192.20 L347.52 192.74 L347.57 193.27 L347.62 193.81 L347.66 194.34 L347.71 194.88 L347.76 195.41 L347.81 195.95 L347.86 196.49 L347.91 197.02 L347.96 197.56 L348.01 198.09 L348.06 198.63 L348.12 199.16 L348.17 199.70 L348.22 200.23 L348.28 200.76 L348.33 201.30 L348.39 201.83 L348.44 202.37 L348.50 202.90 L348.56 203.44 L348.62 203.97 L348.68 204.50 L348.74 205.04 L348.80 205.57 L348.86 206.10 L348.92 206.64 L348.98 207.17 L349.05 207.70 L349.11 208.24 L349.18 208.77 L349.24 209.30 L349.31 209.84 L349.38 210.37 L349.45 210.90 L349.52 211.43 L349.59 211.96 L349.66 212.50 L349.73 213.03 L349.81 213.56 L349.88 214.09 L349.96 214.62 L350.03 215.15 L350.11 215.69 L350.19 216.22 L350.27 216.75 L350.35 217.28 L350.43 217.81 L350.51 218.34 L350.59 218.87 L350.68 219.40 L350.76 219.93 L350.84 220.46 L350.93 220.99 L351.02 221.52 L351.10 222.05 L351.19 222.58 L351.27 223.11 L351.36 223.64 L351.45 224.17 L351.54 224.70 L351.63 225.23 L351.71 225.75 L351.80 226.28 L351.89 226.81 L351.98 227.34 L352.07 227.87 L352.16 228.40 L352.25 228.93 L352.34 229.46 L352.43 229.99 L352.52 230.52 L352.61 231.05 L352.70 231.58 L352.79 232.11 L352.87 232.64 L352.96 233.17 L353.05 233.70 L353.14 234.23 L353.23 234.76 L353.32 235.29 L353.40 235.82 L353.49 236.35 L353.58 236.88 L353.66 237.41 L353.75 237.94 L353.83 238.47 L353.92 239.00 L354.00 239.53 L354.08 240.06 L354.16 240.59 L354.25 241.12 L354.33 241.65 L354.41 242.19 L354.48 242.72 L354.56 243.25 L354.64 243.78 L354.72 244.31 L354.79 244.85 L354.87 245.38 L354.94 245.91 L355.01 246.44 L355.08 246.98 L355.15 247.51 L355.22 248.04 L355.29 248.58 L355.36 249.11 L355.43 249.65 L355.49 250.18 L355.56 250.71 L355.63 251.25 L355.69 251.78 L355.76 252.32 L355.82 252.85 L355.88 253.39 L355.95 253.92 L356.01 254.46 L356.07 254.99 L356.13 255.53 L356.19 256.06 L356.25 256.60 L356.32 257.13 L356.38 257.67 L356.44 258.20 L356.50 258.74 L356.56 259.27 L356.62 259.81 L356.68 260.34 L356.74 260.88 L356.80 261.41 L356.86 261.95 L356.92 262.48 L356.98 263.02 L357.04 263.55 L357.10 264.09 L357.16 264.62 L357.22 265.16 L357.29 265.69 L357.35 266.23 L357.41 266.76 L357.48 267.29 L357.54 267.83 L357.60 268.36 L357.67 268.90 L357.73 269.43 L357.80 269.96 L357.87 270.50 L357.93 271.03 L358.00 271.56 L358.07 272.10 L358.14 272.63 L358.21 273.16 L358.28 273.69 L358.35 274.22 L358.43 274.76 L358.50 275.29 L358.58 275.82 L358.65 276.35 L358.73 276.88 L358.81 277.41 L358.89 277.94 L358.97 278.47 L359.05 279.00 L359.13 279.53 L359.22 280.06 L359.30 280.59 L359.39 281.12 L359.48 281.64 L359.57 282.17 L359.66 282.70 L359.75 283.23 L359.85 283.75 L359.95 284.28 L360.04 284.80 L360.14 285.33 L360.24 285.85 L360.35 286.38 L360.45 286.90 L360.56 287.43 L360.67 287.95 L360.78 288.47 L360.89 289.00 L361.00 289.52 L361.12 290.04 L361.24 290.56 L361.36 291.08 L361.48 291.60 L361.60 292.12 L361.73 292.64 L361.86 293.16 L361.99 293.68 L362.12 294.20 L362.26 294.71 L362.40 295.23 L362.54 295.75 L362.68 296.26 L362.82 296.78 L362.97 297.29 L363.12 297.80 L363.27 298.32 L363.43 298.83 L363.59 299.34 L364.10 299.70 L364.54 299.55 L364.99 299.12 L365.43 298.49 L365.87 297.81 L366.31 297.18 L366.76 296.75 L367.20 296.60 L367.64 296.80 L368.07 297.36 L368.51 298.21 L368.95 299.20 L369.39 300.19 L369.82 301.04 L370.26 301.60 L370.70 301.80 L371.14 301.66 L371.59 301.25 L372.03 300.67 L372.47 300.03 L372.91 299.45 L373.36 299.04 L373.80 298.90 L374.23 299.10 L374.65 299.68 L375.07 300.54 L375.50 301.55 L375.93 302.56 L376.35 303.42 L376.77 304.00 L377.20 304.20 L377.65 304.01 L378.10 303.48 L378.55 302.75 L379.00 302.03 L379.45 301.49 L379.90 301.30 L380.30 301.49 L380.70 302.02 L381.10 302.81 L381.50 303.75 L381.90 304.69 L382.30 305.48 L382.70 306.01 L383.10 306.20 L383.58 305.89 L384.06 305.09 L384.54 304.11 L385.02 303.31 L385.50 303.00 L385.94 303.22 L386.39 303.85 L386.83 304.75 L387.27 305.75 L387.71 306.65 L388.16 307.28 L388.60 307.50 L389.02 307.29 L389.43 306.70 L389.85 305.90 L390.27 305.10 L390.68 304.51 L391.10 304.30 L391.51 304.50 L391.93 305.05 L392.34 305.85 L392.76 306.75 L393.17 307.55 L393.59 308.10 L394.00 308.30 L394.42 308.07 L394.83 307.45 L395.25 306.60 L395.67 305.75 L396.08 305.13 L396.50 304.90 L396.92 305.15 L397.33 305.82 L397.75 306.75 L398.17 307.68 L398.58 308.35 L399.00 308.60 L399.44 308.28 L399.88 307.43 L400.32 306.37 L400.76 305.52 L401.20 305.20" stroke="#f00"/>
<path d="M92.90 43.10 L100.00 43.08 L110.12 43.04 L120.00 43.00 L128.30 42.95 L136.37 42.89 L145.00 42.80 L154.81 42.70 L165.19 42.59 L175.00 42.40 L184.02 42.11 L192.49 41.76 L200.00 41.40 L206.21 41.06 L211.46 40.71 L216.40 40.40 L221.27 40.14 L225.84 39.92 L230.00 39.70 L233.41 39.47 L236.43 39.24 L240.00 39.00 L244.81 38.73 L250.19 38.46 L255.00 38.20 L258.70 37.97 L261.85 37.77 L265.00 37.60 L268.52 37.47 L272.04 37.37 L275.00 37.30 L277.19 37.27 L278.81 37.26 L280.00 37.26 L280.63 37.27 L280.81 37.28 L281.00 37.30 L281.33 37.31 L281.67 37.32 L282.00 37.33 L282.33 37.34 L282.67 37.36 L283.00 37.37 L283.33 37.38 L283.67 37.39 L284.00 37.41 L284.33 37.42 L284.67 37.43 L285.00 37.44 L285.33 37.46 L285.67 37.47 L286.00 37.49 L286.33 37.50 L286.67 37.51 L287.00 37.53 L287.33 37.54 L287.67 37.56 L288.00 37.58 L288.33 37.59 L288.67 37.61 L289.00 37.63 L289.33 37.65 L289.67 37.66 L290.00 37.68 L290.33 37.70 L290.67 37.72 L291.00 37.74 L291.33 37.77 L291.67 37.79 L292.00 37.81 L292.33 37.83 L292.67 37.86 L293.00 37.88 L293.33 37.91 L293.67 37.94 L294.00 37.97 L294.33 38.00 L294.67 38.03 L295.00 38.06 L295.33 38.09 L295.67 38.12 L296.00 38.16 L296.33 38.20 L296.67 38.23 L297.00 38.27 L297.33 38.31 L297.67 38.35 L298.00 38.40 L298.33 38.44 L298.67 38.49 L299.00 38.53 L299.33 38.58 L299.67 38.63 L300.00 38.68 L300.33 38.74 L300.67 38.79 L301.00 38.85 L301.33 38.91 L301.67 38.97 L302.00 39.03 L302.33 39.09 L302.67 39.16 L303.00 39.22 L303.33 39.29 L303.67 39.36 L304.00 39.43 L304.33 39.51 L304.67 39.58 L305.00 39.66 L305.33 39.74 L305.67 39.83 L306.00 39.91 L306.33 40.00 L306.67 40.09 L307.00 40.18 L307.33 40.27 L307.67 40.36 L308.00 40.46 L308.33 40.56 L308.67 40.66 L309.00 40.76 L309.33 40.87 L309.67 40.98 L310.00 41.09 L310.33 41.20 L310.67 41.31 L311.00 41.43 L311.33 41.55 L311.67 41.67 L312.00 41.79 L312.33 41.92 L312.67 42.05 L313.00 42.18 L313.33 42.31 L313.67 42.44 L314.00 42.58 L314.33 42.72 L314.67 42.86 L315.00 43.01 L315.33 43.15 L315.67 43.30 L316.00 43.45 L316.33 43.60 L316.67 43.76 L317.00 43.92 L317.33 44.08 L317.67 44.24 L318.00 44.40 L318.33 44.57 L318.67 44.74 L319.00 44.91 L319.33 45.08 L319.67 45.26 L320.00 45.44 L320.33 45.62 L320.67 45.80 L321.00 45.99 L321.33 46.17 L321.67 46.36 L322.00 46.55 L322.33 46.75 L322.67 46.94 L323.00 47.14 L323.33 47.34 L323.67 47.54 L324.00 47.74 L324.33 47.95 L324.67 48.16 L325.00 48.37 L325.33 48.58 L325.67 48.79 L326.00 49.01 L326.33 49.23 L326.67 49.45 L327.00 49.67 L327.33 49.89 L327.67 50.12 L328.00 50.35 L328.33 50.58 L328.67 50.81 L329.00 51.04 L329.33 51.28 L329.67 51.51 L330.00 51.75 L330.33 51.99 L330.67 52.23 L331.00 52.48 L331.33 52.72 L331.67 52.97 L332.00 53.22 L332.33 53.47 L332.67 53.72 L333.00 53.98 L333.33 54.23 L333.67 54.49 L334.00 54.75 L334.33 55.01 L334.67 55.27 L335.00 55.53 L335.33 55.79 L335.67 56.06 L336.00 56.33 L336.33 56.59 L336.67 56.86 L337.00 57.14 L337.33 57.41 L337.67 57.68 L338.00 57.96 L338.33 58.23 L338.67 58.51 L339.00 58.79 L339.33 59.07 L339.67 59.35 L340.00 59.63 L340.33 59.92 L340.67 60.20 L341.00 60.49 L341.33 60.78 L341.67 61.06 L342.00 61.35 L342.33 61.64 L342.67 61.93 L343.00 62.23 L343.33 62.52 L343.67 62.82 L344.00 63.11 L344.33 63.41 L344.67 63.71 L345.00 64.00 L345.33 64.30 L345.67 64.60 L346.00 64.90 L346.33 65.21 L346.67 65.51 L347.00 65.81 L347.33 66.12 L347.67 66.42 L348.00 66.73 L348.33 67.04 L348.67 67.35 L349.00 67.66 L349.33 67.97 L349.67 68.28 L350.00 68.59 L350.33 68.90 L350.67 69.21 L351.00 69.53 L351.33 69.84 L351.67 70.16 L352.00 70.48 L352.33 70.79 L352.67 71.11 L353.00 71.43 L353.33 71.75 L353.67 72.07 L354.00 72.39 L354.33 72.71 L354.67 73.03 L355.00 73.36 L355.33 73.68 L355.67 74.01 L356.00 74.33 L356.33 74.66 L356.67 74.99 L357.00 75.31 L357.33 75.64 L357.67 75.97 L358.00 76.30 L358.33 76.63 L358.67 76.97 L359.00 77.30 L359.33 77.63 L359.67 77.96 L360.00 78.30 L360.33 78.63 L360.67 78.97 L361.00 79.31 L361.33 79.65 L361.67 79.98 L362.00 80.32 L362.33 80.66 L362.67 81.00 L363.00 81.35 L363.33 81.69 L363.67 82.03 L364.00 82.37 L364.33 82.72 L364.67 83.06 L365.00 83.41 L365.33 83.76 L365.67 84.11 L366.00 84.45 L366.33 84.80 L366.67 85.15 L367.00 85.50 L367.33 85.85 L367.67 86.21 L368.00 86.56 L368.33 86.91 L368.67 87.27 L369.00 87.62 L369.33 87.98 L369.67 88.33 L370.00 88.69 L370.33 89.05 L370.67 89.40 L371.00 89.76 L371.33 90.12 L371.67 90.48 L372.00 90.84 L372.33 91.20 L372.67 91.56 L373.00 91.92 L373.33 92.29 L373.67 92.65 L374.00 93.01 L374.33 93.37 L374.67 93.74 L375.00 94.10 L375.33 94.47 L375.67 94.83 L376.00 95.19 L376.33 95.56 L376.67 95.92 L377.00 96.29 L377.33 96.65 L377.67 97.02 L378.00 97.38 L378.33 97.74 L378.67 98.11 L379.00 98.47 L379.33 98.83 L379.67 99.20 L380.00 99.56 L380.33 99.92 L380.67 100.28 L381.00 100.64 L381.33 101.00 L381.67 101.35 L382.00 101.71 L382.33 102.07 L382.67 102.42 L383.00 102.77 L383.33 103.12 L383.67 103.47 L384.00 103.82 L384.33 104.17 L384.67 104.51 L385.00 104.85 L385.33 105.19 L385.67 105.53 L386.00 105.86 L386.33 106.19 L386.67 106.52 L387.00 106.85 L387.33 107.17 L387.67 107.49 L388.00 107.80 L388.33 108.11 L388.67 108.42 L389.00 108.72 L389.33 109.02 L389.67 109.32 L390.00 109.61 L390.33 109.89 L390.67 110.17 L391.00 110.44 L391.33 110.71 L391.67 110.97 L392.00 111.23 L392.33 111.48 L392.67 111.72 L393.00 111.95 L393.33 112.18 L393.67 112.40 L394.00 112.61 L394.33 112.81 L394.67 113.01 L395.00 113.19 L395.33 113.37 L395.67 113.54 L396.00 113.69 L396.33 113.84 L396.67 113.97 L397.00 114.10 L397.33 114.21 L397.67 114.31 L398.00 114.40 L398.33 114.47 L398.67 114.53 L399.00 114.58 L399.33 114.61 L399.67 114.63 L400.00 114.64 L400.36 114.62 L400.73 114.58 L401.00 114.55 L401.13 114.53 L401.18 114.52 L401.20 114.51" stroke="#00f"/>
</g>
<g stroke="#000" fill="none"><line x1="92.20" y1="6.20" x2="534.90" y2="6.20" stroke-width="1.22"/><line x1="92.20" y1="377.00" x2="534.90" y2="377.00" stroke-width="1.60"/><line x1="92.80" y1="5.59" x2="92.80" y2="377.80" stroke-width="1.20"/><line x1="534.30" y1="5.59" x2="534.30" y2="377.80" stroke-width="1.20"/></g>
<text x="78.05" y="401.00" font-size="23.00" textLength="21.00" lengthAdjust="spacingAndGlyphs">10</text><text x="99.07" y="392.50" font-size="14.80" textLength="7.63" lengthAdjust="spacingAndGlyphs">3</text><text x="298.60" y="401.00" font-size="23.00" textLength="21.00" lengthAdjust="spacingAndGlyphs">10</text><text x="320.08" y="392.50" font-size="14.80" textLength="6.79" lengthAdjust="spacingAndGlyphs">4</text><text x="519.15" y="401.00" font-size="23.00" textLength="21.00" lengthAdjust="spacingAndGlyphs">10</text><text x="539.99" y="392.50" font-size="14.80" textLength="7.82" lengthAdjust="spacingAndGlyphs">5</text><text x="45.95" y="75.10" font-size="23.00" textLength="21.05" lengthAdjust="spacingAndGlyphs">10</text><text x="67.60" y="67.61" font-size="14.80" textLength="11.28" lengthAdjust="spacingAndGlyphs" fill="#333">−</text><text x="78.63" y="66.80" font-size="14.80" textLength="7.85" lengthAdjust="spacingAndGlyphs">6</text><text x="45.95" y="138.15" font-size="23.00" textLength="21.05" lengthAdjust="spacingAndGlyphs">10</text><text x="67.60" y="130.66" font-size="14.80" textLength="11.28" lengthAdjust="spacingAndGlyphs" fill="#333">−</text><text x="78.21" y="129.85" font-size="14.80" textLength="8.27" lengthAdjust="spacingAndGlyphs">7</text><text x="45.95" y="201.20" font-size="23.00" textLength="21.05" lengthAdjust="spacingAndGlyphs">10</text><text x="67.60" y="193.71" font-size="14.80" textLength="11.28" lengthAdjust="spacingAndGlyphs" fill="#333">−</text><text x="78.70" y="192.90" font-size="14.80" textLength="7.90" lengthAdjust="spacingAndGlyphs">8</text><text x="45.95" y="264.25" font-size="23.00" textLength="21.05" lengthAdjust="spacingAndGlyphs">10</text><text x="67.60" y="256.76" font-size="14.80" textLength="11.28" lengthAdjust="spacingAndGlyphs" fill="#333">−</text><text x="78.80" y="255.95" font-size="14.80" textLength="7.85" lengthAdjust="spacingAndGlyphs">9</text><text x="37.66" y="327.80" font-size="23.00" textLength="22.08" lengthAdjust="spacingAndGlyphs">10</text><text x="60.01" y="319.71" font-size="14.80" textLength="11.16" lengthAdjust="spacingAndGlyphs" fill="#333">−</text><text x="71.15" y="319.00" font-size="14.80" textLength="15.33" lengthAdjust="spacingAndGlyphs">10</text>
<line x1="386" y1="39.85" x2="412" y2="39.85" stroke="#000" stroke-width="1.20"/><text x="415.84" y="46.00" font-size="23.20" textLength="25.46" lengthAdjust="spacingAndGlyphs">Re</text><text x="447.72" y="46.92" font-size="19.50" textLength="17.83" lengthAdjust="spacingAndGlyphs" fill="#3a3a3a">=</text><text x="471.49" y="46.00" font-size="23.00" textLength="32.53" lengthAdjust="spacingAndGlyphs">100</text><line x1="386" y1="63.25" x2="412" y2="63.25" stroke="#f00" stroke-width="1.20"/><text x="415.84" y="69.40" font-size="23.20" textLength="25.46" lengthAdjust="spacingAndGlyphs">Re</text><text x="447.72" y="70.32" font-size="19.50" textLength="17.83" lengthAdjust="spacingAndGlyphs" fill="#3a3a3a">=</text><text x="472.06" y="69.40" font-size="23.00" textLength="31.95" lengthAdjust="spacingAndGlyphs">200</text><line x1="386" y1="86.65" x2="412" y2="86.65" stroke="#00f" stroke-width="1.20"/><text x="415.84" y="92.80" font-size="23.20" textLength="25.46" lengthAdjust="spacingAndGlyphs">Re</text><text x="447.72" y="93.72" font-size="19.50" textLength="17.83" lengthAdjust="spacingAndGlyphs" fill="#3a3a3a">=</text><text x="471.97" y="92.80" font-size="23.00" textLength="32.04" lengthAdjust="spacingAndGlyphs">300</text>
<text x="247.34" y="426.00" font-size="23.50" textLength="99.68" lengthAdjust="spacingAndGlyphs">Frequency,</text><text x="354.39" y="426.00" font-size="23.50" textLength="24.71" lengthAdjust="spacingAndGlyphs">Hz</text>
<text transform="rotate(-90)" x="-248.28" y="22.40" font-size="23.70" textLength="42.72" lengthAdjust="spacingAndGlyphs">PSD</text><text transform="rotate(-90)" x="-204.96" y="22.40" font-size="23.70" textLength="4.36" lengthAdjust="spacingAndGlyphs">,</text><text transform="rotate(-90)" x="-191.32" y="22.30" font-size="23.70" textLength="19.76" lengthAdjust="spacingAndGlyphs">W</text><text transform="rotate(-90)" x="-169.40" y="27.30" font-size="32.00" textLength="8.19" lengthAdjust="spacingAndGlyphs">/</text><text transform="rotate(-90)" x="-159.30" y="22.30" font-size="23.70" textLength="24.18" lengthAdjust="spacingAndGlyphs">Hz</text>
</g>
</svg>
</body></html>
